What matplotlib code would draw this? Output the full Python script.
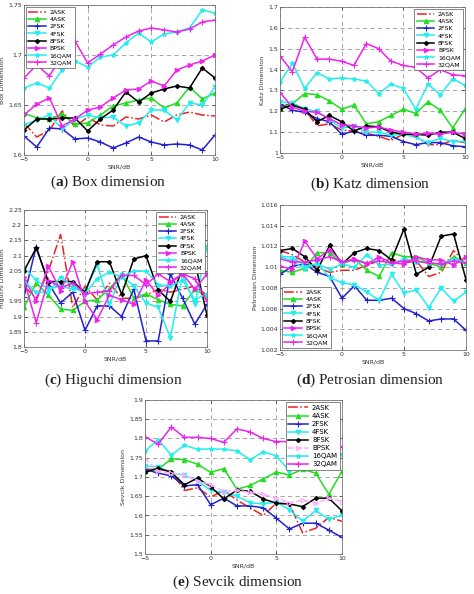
import numpy as np
import matplotlib
matplotlib.use('Agg')
import matplotlib.pyplot as plt

plt.rcParams['font.family'] = ['DejaVu Sans']
plt.rcParams['mathtext.fontset'] = 'custom'
plt.rcParams['mathtext.rm'] = 'Liberation Serif'
plt.rcParams['mathtext.bf'] = 'Liberation Serif:bold'

# ---------------- data ----------------
snr = list(range(-5, 11))
labels = ['2ASK', '4ASK', '2FSK', '4FSK', '8FSK', 'BPSK', '16QAM', '32QAM']

box = {
    '2ASK': [1.632, 1.618, 1.625, 1.644, 1.628, 1.638, 1.630, 1.629, 1.638, 1.636, 1.640, 1.633, 1.640, 1.643, 1.640, 1.639],
    '4ASK': [1.642, 1.637, 1.636, 1.641, 1.631, 1.632, 1.640, 1.649, 1.652, 1.655, 1.657, 1.647, 1.652, 1.668, 1.656, 1.662],
    '2FSK': [1.619, 1.608, 1.627, 1.626, 1.616, 1.617, 1.613, 1.607, 1.612, 1.618, 1.613, 1.610, 1.611, 1.610, 1.605, 1.620],
    '4FSK': [1.630, 1.635, 1.640, 1.626, 1.636, 1.640, 1.637, 1.638, 1.629, 1.632, 1.645, 1.645, 1.635, 1.652, 1.650, 1.668],
    '8FSK': [1.625, 1.636, 1.636, 1.637, 1.637, 1.624, 1.636, 1.645, 1.663, 1.653, 1.662, 1.666, 1.669, 1.667, 1.687, 1.677],
    'BPSK': [1.640, 1.651, 1.657, 1.629, 1.636, 1.645, 1.648, 1.657, 1.665, 1.666, 1.674, 1.669, 1.685, 1.690, 1.694, 1.700],
    '16QAM': [1.667, 1.672, 1.667, 1.685, 1.694, 1.688, 1.698, 1.700, 1.712, 1.722, 1.713, 1.721, 1.723, 1.727, 1.745, 1.742],
    '32QAM': [1.677, 1.690, 1.679, 1.700, 1.714, 1.692, 1.701, 1.710, 1.718, 1.724, 1.727, 1.725, 1.723, 1.726, 1.733, 1.735],
}

katz = {
    '2ASK': [1.22, 1.24, 1.21, 1.13, 1.14, 1.11, 1.105, 1.095, 1.08, 1.06, 1.09, 1.08, 1.04, 1.04, 1.06, 1.05],
    '4ASK': [1.215, 1.235, 1.285, 1.28, 1.25, 1.21, 1.23, 1.14, 1.15, 1.18, 1.21, 1.19, 1.245, 1.205, 1.12, 1.21],
    '2FSK': [1.235, 1.205, 1.195, 1.165, 1.15, 1.09, 1.105, 1.085, 1.085, 1.08, 1.055, 1.04, 1.05, 1.05, 1.035, 1.03],
    '4FSK': [1.245, 1.24, 1.21, 1.20, 1.16, 1.12, 1.13, 1.10, 1.10, 1.085, 1.09, 1.075, 1.05, 1.07, 1.055, 1.055],
    '8FSK': [1.21, 1.23, 1.21, 1.15, 1.18, 1.15, 1.105, 1.13, 1.125, 1.10, 1.09, 1.09, 1.085, 1.10, 1.10, 1.07],
    'BPSK': [1.29, 1.22, 1.20, 1.195, 1.165, 1.135, 1.13, 1.12, 1.125, 1.11, 1.10, 1.09, 1.095, 1.09, 1.10, 1.09],
    '16QAM': [1.34, 1.43, 1.31, 1.385, 1.355, 1.36, 1.355, 1.345, 1.285, 1.33, 1.31, 1.21, 1.33, 1.28, 1.355, 1.325],
    '32QAM': [1.465, 1.39, 1.555, 1.45, 1.45, 1.44, 1.42, 1.525, 1.50, 1.44, 1.42, 1.41, 1.36, 1.40, 1.375, 1.37],
}

higuchi = {
    '2ASK': [2.00, 1.96, 2.05, 2.17, 1.93, 2.00, 1.955, 2.01, 1.96, 1.96, 1.97, 1.99, 1.98, 1.99, 2.00, 1.97],
    '4ASK': [1.93, 2.01, 1.97, 1.925, 1.92, 1.95, 1.955, 1.99, 2.04, 1.96, 1.975, 1.955, 1.94, 1.935, 1.99, 1.965],
    '2FSK': [1.965, 2.13, 2.01, 1.945, 1.98, 1.855, 1.935, 1.935, 1.90, 1.99, 1.82, 1.82, 2.04, 1.96, 1.875, 1.94],
    '4FSK': [2.06, 2.02, 1.99, 2.00, 1.99, 1.985, 2.07, 1.94, 2.035, 2.00, 1.945, 1.93, 1.83, 2.04, 1.94, 2.13],
    '8FSK': [2.05, 2.125, 2.015, 2.015, 2.015, 1.98, 2.08, 2.08, 1.973, 2.089, 2.10, 1.987, 1.95, 2.06, 2.08, 1.905],
    'BPSK': [2.03, 1.95, 2.065, 1.985, 2.08, 1.95, 1.89, 1.97, 1.955, 1.94, 2.02, 1.97, 2.01, 2.04, 1.99, 2.04],
    '16QAM': [2.015, 1.98, 1.98, 2.03, 2.00, 1.975, 2.025, 2.045, 2.03, 2.05, 2.05, 2.005, 2.00, 2.02, 1.955, 1.975],
    '32QAM': [2.02, 1.88, 2.02, 1.995, 2.01, 1.975, 1.98, 1.985, 2.035, 2.035, 2.005, 2.04, 2.015, 2.04, 2.025, 1.95],
}

petrosian = {
    '2ASK': [1.0116, 1.0112, 1.0105, 1.0100, 1.0095, 1.0097, 1.0097, 1.0102, 1.0106, 1.0108, 1.0104, 1.0106, 1.0091, 1.0095, 1.0116, 1.0103],
    '4ASK': [1.0097, 1.0095, 1.0099, 1.0114, 1.0114, 1.0103, 1.0108, 1.0097, 1.0091, 1.0114, 1.0110, 1.0110, 1.0104, 1.0100, 1.0110, 1.0104],
    '2FSK': [1.0093, 1.0101, 1.0103, 1.0095, 1.0091, 1.0070, 1.0082, 1.0068, 1.0068, 1.0070, 1.0060, 1.0055, 1.0048, 1.0050, 1.0050, 1.0039],
    '4FSK': [1.0110, 1.0106, 1.0098, 1.0104, 1.0090, 1.0085, 1.0083, 1.0076, 1.0068, 1.0093, 1.0075, 1.0078, 1.0061, 1.0080, 1.0067, 1.0076],
    '8FSK': [1.0116, 1.0118, 1.0110, 1.0097, 1.0121, 1.0103, 1.0114, 1.0118, 1.0116, 1.0107, 1.0137, 1.0093, 1.0100, 1.0130, 1.0132, 1.0088],
    'BPSK': [1.0101, 1.0098, 1.0125, 1.0108, 1.0117, 1.0105, 1.0108, 1.0103, 1.0110, 1.0104, 1.0103, 1.0110, 1.0107, 1.0107, 1.0102, 1.0110],
    '16QAM': [1.0110, 1.0110, 1.0101, 1.0103, 1.0098, 1.0103, 1.0100, 1.0112, 1.0102, 1.0103, 1.0108, 1.0105, 1.0104, 1.0103, 1.0108, 1.0104],
    '32QAM': [1.0108, 1.0105, 1.0105, 1.0107, 1.0110, 1.0105, 1.0107, 1.0104, 1.0106, 1.0104, 1.0106, 1.0106, 1.0104, 1.0103, 1.0106, 1.0104],
}

sevcik = {
    '2ASK': [1.72, 1.72, 1.715, 1.665, 1.672, 1.648, 1.665, 1.64, 1.62, 1.60, 1.632, 1.63, 1.555, 1.567, 1.595, 1.585],
    '4ASK': [1.715, 1.72, 1.747, 1.745, 1.733, 1.712, 1.722, 1.668, 1.678, 1.695, 1.713, 1.705, 1.72, 1.71, 1.655, 1.715],
    '2FSK': [1.72, 1.71, 1.703, 1.677, 1.68, 1.628, 1.645, 1.625, 1.625, 1.62, 1.593, 1.565, 1.58, 1.58, 1.562, 1.543],
    '4FSK': [1.728, 1.727, 1.71, 1.705, 1.69, 1.665, 1.66, 1.65, 1.633, 1.63, 1.635, 1.615, 1.585, 1.613, 1.59, 1.60],
    '8FSK': [1.712, 1.723, 1.712, 1.68, 1.697, 1.675, 1.643, 1.666, 1.663, 1.643, 1.632, 1.63, 1.623, 1.645, 1.645, 1.612],
    'BPSK': [1.748, 1.715, 1.71, 1.705, 1.69, 1.68, 1.662, 1.665, 1.66, 1.655, 1.645, 1.633, 1.64, 1.632, 1.645, 1.636],
    '16QAM': [1.767, 1.797, 1.757, 1.782, 1.772, 1.773, 1.772, 1.768, 1.745, 1.765, 1.755, 1.715, 1.74, 1.75, 1.755, 1.76],
    '32QAM': [1.805, 1.785, 1.83, 1.803, 1.803, 1.80, 1.79, 1.825, 1.817, 1.80, 1.792, 1.792, 1.785, 1.79, 1.785, 1.778],
}

# ---------------- styles ----------------
styles = {
    '2ASK': dict(color='#ee2222', ls='-.', marker=None),
    '4ASK': dict(color='#22dd22', ls='-', marker='^'),
    '2FSK': dict(color='#2222cc', ls='-', marker='+'),
    '4FSK': dict(color='#22eeee', ls='-', marker='v'),
    '8FSK': dict(color='black', ls='-', marker='D'),
    'BPSK': dict(color='#ee22ee', ls='-', marker='>'),
    '16QAM': dict(color='#22eeee', ls='-', marker='*'),
    '32QAM': dict(color='#ee22ee', ls='-', marker='+'),
}

W, H = 474, 594
fig = plt.figure(figsize=(W / 100, H / 100), dpi=100)


def add_ax(l, r, t, b):
    return fig.add_axes([l / W, 1 - b / H, (r - l) / W, (b - t) / H])


def panel(ax, data, ylabel, yticks, ylim, legloc, fs=4.5, pale_bpsk=False):
    for name in labels:
        st = dict(styles[name])
        ms = 3.2
        if st['marker'] == 'D':
            ms = 2.2
        if st['marker'] == '+':
            ms = 3.8
        kw = dict(color=st['color'], ls=st['ls'], lw=1.1, marker=st['marker'],
                  ms=ms, mew=0.8, label=name)
        if name == 'BPSK' and pale_bpsk:
            kw.update(color='#ffaaff', ls='--', mfc='none')
        ax.plot(snr, data[name], **kw)
    ax.set_xlim(-5, 10)
    ax.set_ylim(*ylim)
    ax.set_xticks([-5, 0, 5, 10])
    ax.set_yticks(yticks)
    ax.set_yticklabels([f'{v:g}' for v in yticks])
    ax.grid(True, color='#999999', ls=(0, (5, 4)), lw=0.6)
    ax.tick_params(direction='in', length=2, width=0.5, labelsize=4.5,
                   colors='#333333', top=True, right=True, pad=1.5)
    for s in ax.spines.values():
        s.set_color('#777777')
        s.set_linewidth(0.6)
    ax.set_xlabel('SNR/dB', fontsize=4.5, color='#333333', labelpad=1.5)
    ax.set_ylabel(ylabel, fontsize=4.5, color='#333333', labelpad=2)
    leg = ax.legend(loc=legloc, fontsize=fs, handlelength=2.8, labelspacing=0.3,
                    borderpad=0.4, handletextpad=0.6, fancybox=False,
                    framealpha=1, edgecolor='#555555', borderaxespad=0.3)
    leg.get_frame().set_linewidth(0.5)


ax_a = add_ax(24, 215, 5, 155)
panel(ax_a, box, 'Box Dimension', [1.6, 1.65, 1.7, 1.75], (1.6, 1.75), 'upper left')

ax_b = add_ax(280, 465, 7, 153)
panel(ax_b, katz, 'Katz Dimension', np.round(np.arange(1.0, 1.71, 0.1), 2), (1.0, 1.7), 'upper right')

ax_c = add_ax(24, 207, 210, 347)
panel(ax_c, higuchi, 'Higuchi Dimension', np.round(np.arange(1.8, 2.251, 0.05), 2), (1.8, 2.25), 'upper right')

ax_d = add_ax(280, 466, 205, 350)
panel(ax_d, petrosian, 'Petrosian Dimension', np.round(np.arange(1.002, 1.0161, 0.002), 3), (1.002, 1.016), 'lower left')

ax_e = add_ax(145, 342, 400, 554)
panel(ax_e, sevcik, 'Sevcik Dimension', np.round(np.arange(1.5, 1.91, 0.05), 2), (1.5, 1.9), 'upper right',
      fs=5, pale_bpsk=True)

captions = [
    (108, 182, r'($\mathbf{a}$) Box dimension'),
    (370, 184, r'($\mathbf{b}$) Katz dimension'),
    (114, 380, r'($\mathbf{c}$) Higuchi dimension'),
    (370, 380, r'($\mathbf{d}$) Petrosian dimension'),
    (238, 582, r'($\mathbf{e}$) Sevcik dimension'),
]
for x, y, txt in captions:
    fig.text(x / W, 1 - y / H, txt, ha='center', va='center', fontsize=11,
             family='Liberation Serif', color='#222222')

fig.savefig('out.png', dpi=100)
